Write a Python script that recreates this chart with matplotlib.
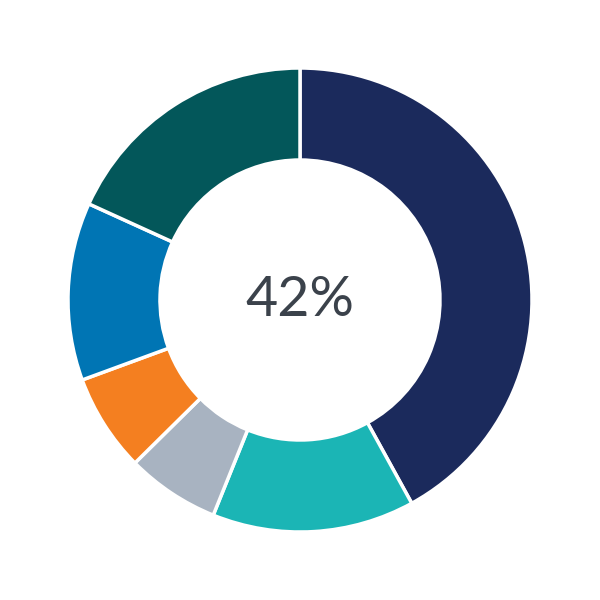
import matplotlib
matplotlib.use("Agg")
import matplotlib.pyplot as plt

# shares, clockwise from 12 o'clock
labels = ["Navy", "Teal", "Gray", "Orange", "Blue", "Green"]
values = [42, 14.1, 6.5, 6.8, 12.4, 18.2]
colors = ["#1b2a5c", "#1bb5b5", "#a8b3c1", "#f47f20", "#0075b4", "#03575a"]
center_label = "42%"

fig = plt.figure(figsize=(6, 6), dpi=100)
ax = fig.add_axes([0, 0, 1, 1])

outer = 232 / 300.0
ax.pie(values, colors=colors, startangle=90, counterclock=False,
       radius=outer,
       wedgeprops=dict(width=outer - 140 / 300.0, edgecolor="white", linewidth=2.5))

ax.text(0, 0, center_label, ha="center", va="center", fontsize=40,
        family=["Lato", "DejaVu Sans"], color="#3b424b")

ax.set_xlim(-1, 1)
ax.set_ylim(-1, 1)
ax.set_aspect("equal")
ax.axis("off")

fig.savefig("out.png", dpi=100, facecolor="white")
